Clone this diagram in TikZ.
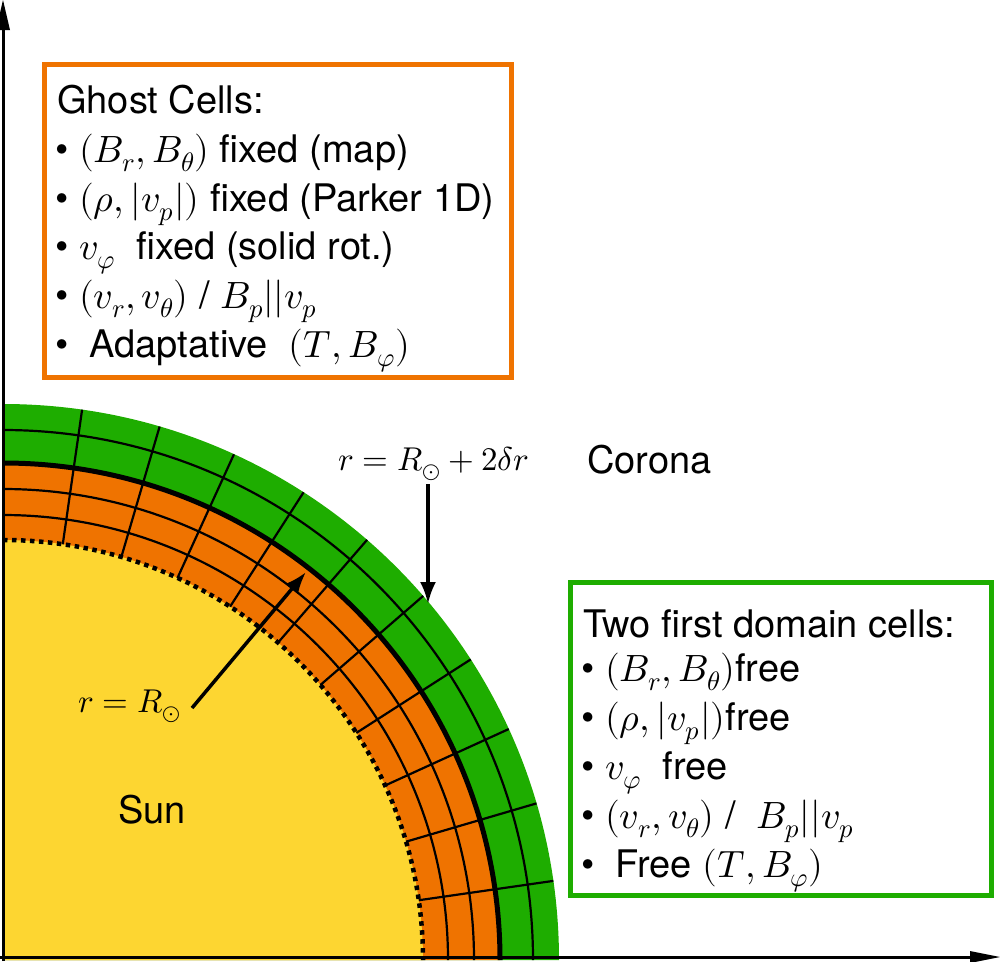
\documentclass[tikz,border=0pt]{standalone}
\usepackage{fontspec}
\usepackage{unicode-math}
\setmainfont{TeX Gyre Heros}
\setmathfont{Latin Modern Math}
\usetikzlibrary{arrows.meta}
\definecolor{sunY}{HTML}{FDD631}
\definecolor{ghO}{HTML}{EF7300}
\definecolor{domG}{HTML}{1EAD00}
\begin{document}
\begin{tikzpicture}[x=1pt,y=-1pt,
  txt/.style={anchor=base west,inner sep=0pt,font=\fontsize{38}{44}\selectfont},
  lbl/.style={inner sep=0pt,font=\fontsize{33}{38}\selectfont}]
\useasboundingbox (0,0) rectangle (1000,961);
\coordinate (O) at (3,960);
% rings
\fill[domG] (O) ++(0,-556) arc[start angle=-90,end angle=0,radius=556] -- (O) -- cycle;
\fill[ghO] (O) ++(0,-497) arc[start angle=-90,end angle=0,radius=497] -- (O) -- cycle;
\fill[sunY] (O) ++(0,-420) arc[start angle=-90,end angle=0,radius=420] -- (O) -- cycle;
\foreach \r in {445,471,530}
  \draw[line width=2.2] (O) ++(0,-\r) arc[start angle=-90,end angle=0,radius=\r];
\foreach \i in {1,...,10}
  \draw[line width=2.2] (O) ++({-90+\i*90/11}:{420}) -- ++({-90+\i*90/11}:136);
\draw[line width=5] (O) ++(0,-497) arc[start angle=-90,end angle=0,radius=497];
\draw[line width=4.5,dash pattern=on 4.5pt off 4.5pt] (O) ++(0,-420) arc[start angle=-90,end angle=0,radius=420];
% axes
\coordinate (ytop) at (3,0);
\coordinate (xend) at (1000,957);
\draw[line width=3] (3,961) -- (3,28);
\fill (ytop) -- (-4,30) -- (10,30) -- cycle;
\draw[line width=3] (0,957) -- (975,957);
\fill (xend) -- (970,951) -- (970,963) -- cycle;
% labels
\node[lbl,anchor=base west] (l1) at (338,470) {$r=R_\odot+2\delta r$};
\coordinate (a1) at (428,604);
\draw[line width=3.5,-{Latex[length=22,width=16]}] (428,484) -- (a1);
\node[lbl,anchor=base west] (l2) at (78,712) {$r=R_\odot$};
\coordinate (a2) at (306,572);
\draw[line width=3.5,-{Latex[length=22,width=16]}] (192,708) -- (a2);
\node[txt] (corona) at (587,473) {Corona};
\node[txt] (sun) at (118,823) {Sun};
% orange box
\draw[ghO,line width=5,fill=white] (44,64) rectangle (511,377);
\node[txt] (g0) at (57,113) {Ghost Cells:};
\node[txt] (g1) at (55,162) {\textbullet\ $(B_r,B_\theta)$\ fixed (map)};
\node[txt] (g2) at (55,211) {\textbullet\ $(\rho,|v_p|)$ fixed (Parker 1D)};
\node[txt] (g3) at (55,259) {\textbullet\ $v_\varphi$\ \ fixed (solid rot.)};
\node[txt] (g4) at (55,308) {\textbullet\ $(v_r,v_\theta)$ / $B_p||v_p$};
\node[txt] (g5) at (55,357) {\textbullet\ \ Adaptative\ \ $(T,B_\varphi)$};
% green box
\draw[domG,line width=5,fill=white] (570,582) rectangle (991,895);
\node[txt] (d0) at (583,637) {Two first domain cells:};
\node[txt] (d1) at (581,681) {\textbullet\ $(B_r,B_\theta)$free};
\node[txt] (d2) at (581,730) {\textbullet\ $(\rho,|v_p|)$free};
\node[txt] (d3) at (581,779) {\textbullet\ $v_\varphi$\ \ free};
\node[txt] (d4) at (581,828) {\textbullet\ $(v_r,v_\theta)$ /\ \ $B_p||v_p$};
\node[txt] (d5) at (581,877) {\textbullet\ \ Free\ $(T,B_\varphi)$};
\end{tikzpicture}
\end{document}
